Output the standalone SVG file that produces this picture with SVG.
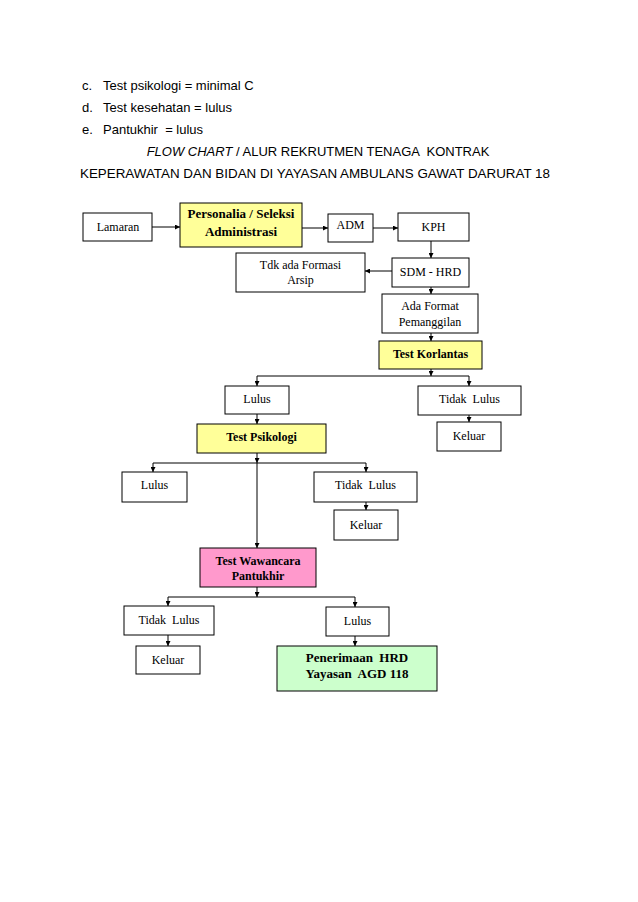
<svg xmlns="http://www.w3.org/2000/svg" width="638" height="902" viewBox="0 0 638 902">
<defs>
<marker id="ah" markerUnits="userSpaceOnUse" markerWidth="5" markerHeight="5" refX="5" refY="2.5" orient="auto">
<path d="M0,0 L5,2.5 L0,5 z" fill="#000"/>
</marker>
</defs>
<style>
.hdr{font-family:"Liberation Sans",Arial,sans-serif;font-size:13px;fill:#000}
.box{fill:#fff;stroke:#000;stroke-width:1}
.yel{fill:#ffff99;stroke:#000;stroke-width:1}
.pink{fill:#ff99cc;stroke:#000;stroke-width:1}
.green{fill:#ccffcc;stroke:#000;stroke-width:1}
.t{font-family:"Liberation Serif","Times New Roman",serif;font-size:12px;fill:#000;text-anchor:middle}
.b{font-family:"Liberation Serif","Times New Roman",serif;font-size:12px;font-weight:bold;fill:#000;text-anchor:middle}
.b13{font-size:13px}
.ar{fill:none;stroke:#000;stroke-width:1;marker-end:url(#ah)}
</style>
<rect width="638" height="902" fill="#fff"/>
<g id="header">
<text class="hdr" x="82" y="90">c.</text>
<text class="hdr" x="103" y="90">Test psikologi = minimal C</text>
<text class="hdr" x="82" y="112">d.</text>
<text class="hdr" x="103" y="112">Test kesehatan = lulus</text>
<text class="hdr" x="82" y="134">e.</text>
<text class="hdr" x="103" y="134" xml:space="preserve">Pantukhir  = lulus</text>
<text class="hdr" x="318" y="156" text-anchor="middle" xml:space="preserve"><tspan font-style="italic">FLOW CHART</tspan> / ALUR REKRUTMEN TENAGA  KONTRAK</text>
<text class="hdr" x="315" y="178" text-anchor="middle" textLength="470" lengthAdjust="spacingAndGlyphs">KEPERAWATAN DAN BIDAN DI YAYASAN AMBULANS GAWAT DARURAT 18</text>
</g>
<g id="connectors">
<line class="ar" x1="152" y1="227" x2="180" y2="227"/>
<line class="ar" x1="302" y1="228" x2="328" y2="228"/>
<line class="ar" x1="373" y1="228" x2="398" y2="228"/>
<line class="ar" x1="431" y1="241" x2="431" y2="258"/>
<line class="ar" x1="392" y1="271" x2="365" y2="271"/>
<line class="ar" x1="431" y1="287" x2="431" y2="294"/>
<line class="ar" x1="431" y1="333" x2="431" y2="341"/>
<line class="ar" x1="431" y1="369" x2="431" y2="376"/>
<polyline class="ar" points="431,376 257,376 257,386"/>
<polyline class="ar" points="431,376 469,376 469,386"/>
<line class="ar" x1="257" y1="414" x2="257" y2="424"/>
<line class="ar" x1="469" y1="415" x2="469" y2="422"/>
<line class="ar" x1="257" y1="453" x2="257" y2="463"/>
<line class="ar" x1="257" y1="463" x2="257" y2="548"/>
<polyline class="ar" points="257,463 153,463 153,472"/>
<polyline class="ar" points="257,463 366,463 366,472"/>
<line class="ar" x1="366" y1="502" x2="366" y2="510"/>
<line class="ar" x1="257" y1="587" x2="257" y2="597"/>
<polyline class="ar" points="257,597 168,597 168,606"/>
<polyline class="ar" points="257,597 355,597 355,607"/>
<line class="ar" x1="168" y1="635" x2="168" y2="646"/>
<line class="ar" x1="355" y1="636" x2="355" y2="646"/>
</g>
<g id="lamaran"><rect class="box" x="83" y="213" width="69" height="28"/><text class="t" x="118" y="231">Lamaran</text></g>
<g id="personalia"><rect class="yel" x="180" y="203" width="122" height="44"/><text class="b b13" x="241" y="218">Personalia / Seleksi</text><text class="b b13" x="241" y="236">Administrasi</text></g>
<g id="adm"><rect class="box" x="328" y="214" width="45" height="28"/><text class="t" x="350.5" y="229">ADM</text></g>
<g id="kph"><rect class="box" x="398" y="213" width="71" height="28"/><text class="t" x="433.5" y="231">KPH</text></g>
<g id="tdk-formasi"><rect class="box" x="236" y="253" width="129" height="39"/><text class="t" x="300.5" y="269">Tdk ada Formasi</text><text class="t" x="300.5" y="284">Arsip</text></g>
<g id="sdm-hrd"><rect class="box" x="392" y="258" width="77" height="29"/><text class="t" x="430.5" y="276">SDM - HRD</text></g>
<g id="ada-format"><rect class="box" x="382" y="294" width="96" height="39"/><text class="t" x="430" y="310">Ada Format</text><text class="t" x="430" y="326">Pemanggilan</text></g>
<g id="korlantas"><rect class="yel" x="379" y="341" width="103" height="28"/><text class="b" x="430.5" y="358">Test Korlantas</text></g>
<g id="lulus1"><rect class="box" x="225" y="386" width="64" height="28"/><text class="t" x="257" y="403">Lulus</text></g>
<g id="tidaklulus1"><rect class="box" x="418" y="386" width="103" height="29"/><text class="t" x="469.5" y="403" xml:space="preserve">Tidak  Lulus</text></g>
<g id="keluar1"><rect class="box" x="437" y="422" width="64" height="29"/><text class="t" x="469" y="440">Keluar</text></g>
<g id="psikologi"><rect class="yel" x="197" y="424" width="129" height="29"/><text class="b" x="261.5" y="441">Test Psikologi</text></g>
<g id="lulus2"><rect class="box" x="122" y="472" width="65" height="30"/><text class="t" x="154.5" y="489">Lulus</text></g>
<g id="tidaklulus2"><rect class="box" x="314" y="472" width="103" height="30"/><text class="t" x="365.5" y="489" xml:space="preserve">Tidak  Lulus</text></g>
<g id="keluar2"><rect class="box" x="334" y="510" width="64" height="30"/><text class="t" x="366" y="529">Keluar</text></g>
<g id="wawancara"><rect class="pink" x="200" y="548" width="116" height="39"/><text class="b" x="258" y="565">Test Wawancara</text><text class="b" x="258" y="580">Pantukhir</text></g>
<g id="tidaklulus3"><rect class="box" x="124" y="606" width="90" height="29"/><text class="t" x="169" y="624" xml:space="preserve">Tidak  Lulus</text></g>
<g id="keluar3"><rect class="box" x="136" y="646" width="64" height="28"/><text class="t" x="168" y="664">Keluar</text></g>
<g id="lulus3"><rect class="box" x="326" y="607" width="63" height="29"/><text class="t" x="357.5" y="625">Lulus</text></g>
<g id="penerimaan"><rect class="green" x="277" y="646" width="160" height="45"/><text class="b b13" x="357" y="662" xml:space="preserve">Penerimaan  HRD</text><text class="b b13" x="357" y="678" xml:space="preserve">Yayasan  AGD 118</text></g>
</svg>
